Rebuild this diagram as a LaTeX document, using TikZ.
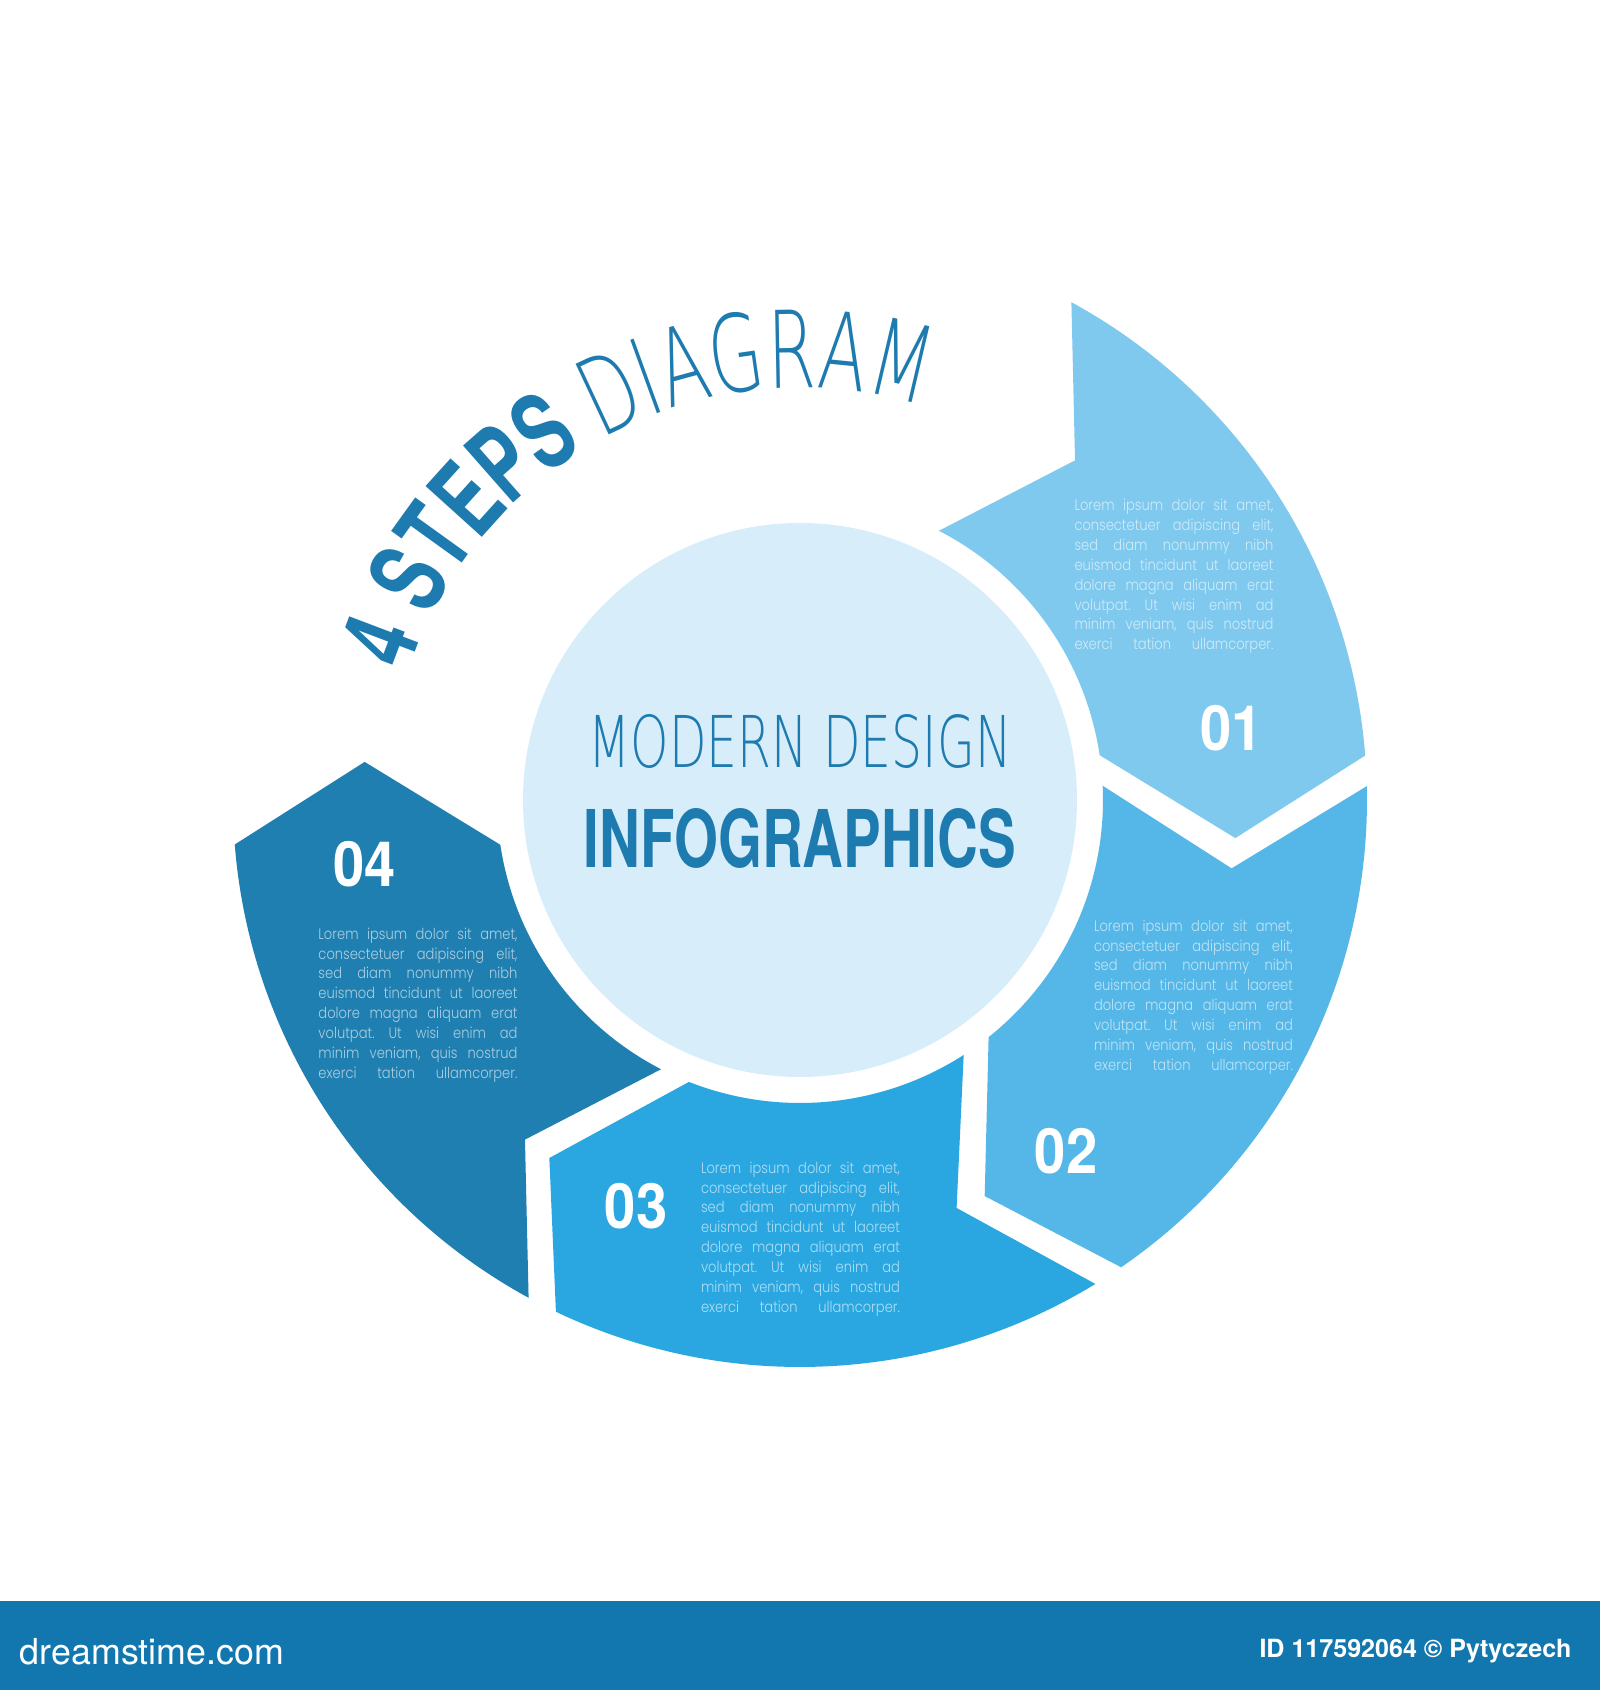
\documentclass[tikz,border=0pt]{standalone}
\usepackage{graphicx}
\usepackage{fontspec}
\usetikzlibrary{decorations.text}
\setmainfont{TeX Gyre Heros}
\newfontfamily\herosC[FakeStretch=0.68]{TeX Gyre Heros}
\newfontfamily\herosN[FakeStretch=0.9]{TeX Gyre Heros}
\newfontfamily\thinC[FakeStretch=0.65]{DejaVu Sans ExtraLight}
\newfontfamily\thinF{DejaVu Sans ExtraLight}
\newfontfamily\loremF[FakeStretch=0.86]{Poppins Light}
\frenchspacing

\definecolor{cA}{HTML}{80C9EE}
\definecolor{cB}{HTML}{55B7E7}
\definecolor{cC}{HTML}{2AA7E1}
\definecolor{cD}{HTML}{1F7FB0}
\definecolor{cCircle}{HTML}{D7EEFA}
\definecolor{cText}{HTML}{1E7BAF}
\definecolor{cBand}{HTML}{1277AF}

% ring segment: colour, start angle (notch), end angle (tip)
\newcommand\ringseg[3]{%
  \fill[#1] (#2+10.4:567) arc[start angle=#2+10.4, end angle=#3+9.5, radius=567]
    -- (#3:437) -- (#3+13.5:303)
    arc[start angle=#3+13.5, end angle=#2+11.7, radius=303]
    -- (#2:437) -- cycle;}

\newcommand\loremfont{\loremF\fontsize{7.6}{9.93}\selectfont}
\newcommand\lorline[1]{\makebox[99.5pt][s]{\spaceskip=3pt plus 30pt\relax #1}}
\newcommand\loremtext{%
\lorline{Lorem ipsum dolor sit amet,}\\
\lorline{consectetuer adipiscing elit,}\\
\lorline{sed diam nonummy nibh}\\
\lorline{euismod tincidunt ut laoreet}\\
\lorline{dolore magna aliquam erat}\\
\lorline{volutpat. Ut wisi enim ad}\\
\lorline{minim veniam, quis nostrud}\\
\lorline{exerci tation ullamcorper.}}

\newcommand\titleB{\herosC\bfseries\fontsize{52}{52}\selectfont}
\newcommand\titleT{\thinC\fontsize{53.5}{53.5}\selectfont}

\begin{document}
\begin{tikzpicture}[x=0.5pt,y=0.5pt,
  lorem/.style={text=white, text opacity=0.62, inner sep=0, align=left,
    font=\loremfont},
  num/.style={text=white, inner sep=0},
  centertext/.style={text=cText, inner sep=0}]
\useasboundingbox (-800,-890) rectangle (800,800);
\fill[white] (-800,-890) rectangle (800,800);

% ring segments
\ringseg{cA}{51}{-5}
\ringseg{cB}{-9}{-65}
\ringseg{cC}{-69}{-125}
\ringseg{cD}{-129}{-185}

% centre disc
\fill[cCircle] (0,0) circle[radius=277];
\node[centertext] (modern) at (0,58.5) {\resizebox{211.5pt}{26.5pt}{\thinF MODERN DESIGN}};
\node[centertext] (info) at (0,-38.5) {\resizebox{216pt}{29.5pt}{\herosC\bfseries INFOGRAPHICS}};

% curved title
\path[decorate, decoration={text along path, text color=cText, text align=left,
  text={|\titleB|4 STEPS |\titleT|DIAGRAM}}]
  (162:412) arc[start angle=162, end angle=36, radius=412];

% numbers
\node[num] (n1) at (431.5,71.5) {\resizebox{!}{22.6pt}{\herosN\bfseries 01}};
\node[num] (n2) at (266,-351) {\resizebox{!}{22.6pt}{\herosN\bfseries 02}};
\node[num] (n3) at (-164,-406) {\resizebox{!}{22.6pt}{\herosN\bfseries 03}};
\node[num] (n4) at (-435.5,-64) {\resizebox{!}{22.6pt}{\herosN\bfseries 04}};

% body texts
\node[lorem] (t1) at (374,223.5) {\loremtext};
\node[lorem] (t2) at (393.5,-197) {\loremtext};
\node[lorem] (t3) at (0.5,-439) {\loremtext};
\node[lorem] (t4) at (-382,-205) {\loremtext};

% footer band
\fill[cBand] (-800,-801) rectangle (800,-890);
\node[text=white, inner sep=0] (brand) at (-648,-852) {\resizebox{132pt}{!}{\fontsize{20}{20}\selectfont dreamstime.com}};
\node[text=white, inner sep=0] (idtxt) at (615.5,-851) {\resizebox{156pt}{!}{\bfseries ID 117592064 © Pytyczech}};
\end{tikzpicture}
\end{document}
